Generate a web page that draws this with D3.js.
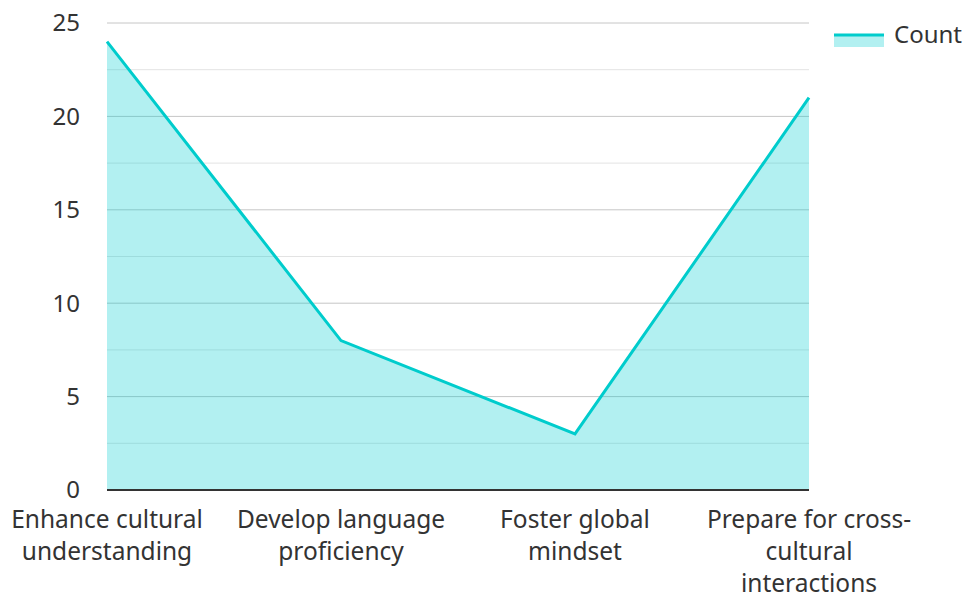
<!DOCTYPE html>
<html>
<head>
<meta charset="utf-8">
<script src="https://cdn.jsdelivr.net/npm/d3@7"></script>
<style>
  body { margin: 0; background: #fff; }
  svg { display: block; font-family: "Noto Sans", "Open Sans", sans-serif; }
</style>
</head>
<body>
<svg id="chart" width="966" height="594"></svg>
<script>
// chart data
const categories = [
  "Enhance cultural understanding",
  "Develop language proficiency",
  "Foster global mindset",
  "Prepare for cross-cultural interactions"
];
const counts = [24, 8, 3, 21];
const yTicks = [0, 5, 10, 15, 20, 25];
const minorTicks = [2.5, 7.5, 12.5, 17.5, 22.5];
const seriesName = "Count";

(function() {
  const svg = d3.select("#chart");
  const plotLeft = 107, plotRight = 809, plotTop = 23, plotBottom = 490;

  const x = d3.scalePoint().domain(categories).range([plotLeft, plotRight]);
  const y = d3.scaleLinear().domain([0, 25]).range([plotBottom, plotTop]);

  // minor grid lines
  svg.append("g").selectAll("line")
    .data(minorTicks).enter().append("line")
    .attr("x1", plotLeft).attr("x2", plotRight)
    .attr("y1", d => y(d)).attr("y2", d => y(d))
    .attr("stroke", "#e3e3e3").attr("stroke-width", 1);

  // major grid lines
  svg.append("g").selectAll("line")
    .data(yTicks.filter(d => d > 0)).enter().append("line")
    .attr("x1", plotLeft).attr("x2", plotRight)
    .attr("y1", d => y(d)).attr("y2", d => y(d))
    .attr("stroke", "#c6c6c6").attr("stroke-width", 1);

  // area + line
  const area = d3.area().x((d, i) => x(categories[i])).y0(y(0)).y1(d => y(d));
  const line = d3.line().x((d, i) => x(categories[i])).y(d => y(d));

  svg.append("path").datum(counts)
    .attr("d", area)
    .attr("fill", "rgba(0, 206, 209, 0.3)");

  svg.append("path").datum(counts)
    .attr("d", line)
    .attr("fill", "none")
    .attr("stroke", "#00cccc")
    .attr("stroke-width", 3)
    .attr("stroke-linejoin", "miter");

  // y axis labels
  svg.append("g").selectAll("text")
    .data(yTicks).enter().append("text")
    .attr("x", 80).attr("y", d => y(d) + 2)
    .attr("text-anchor", "end")
    .attr("dominant-baseline", "middle")
    .attr("font-size", 24)
    .attr("fill", "#333")
    .text(d => d);

  // x axis line
  svg.append("line")
    .attr("x1", plotLeft).attr("x2", plotRight)
    .attr("y1", plotBottom).attr("y2", plotBottom)
    .attr("stroke", "#333").attr("stroke-width", 2);

  // wrap labels at spaces and hyphens
  function wrapLabel(label, maxWidth, measure) {
    const parts = label.match(/[^\s-]+-?/g);
    const lines = [];
    let cur = "";
    parts.forEach(p => {
      const sep = cur === "" || cur.endsWith("-") ? "" : " ";
      const test = cur + sep + p;
      if (cur !== "" && measure(test) > maxWidth) {
        lines.push(cur);
        cur = p;
      } else {
        cur = test;
      }
    });
    if (cur) lines.push(cur);
    return lines;
  }

  const labelSize = 24.5;
  const measurer = svg.append("text").attr("font-size", labelSize).attr("visibility", "hidden");
  const measure = s => { measurer.text(s); return measurer.node().getComputedTextLength(); };

  const xLabels = svg.append("g");
  categories.forEach(c => {
    const lines = wrapLabel(c, 215, measure);
    const t = xLabels.append("text")
      .attr("text-anchor", "middle")
      .attr("dominant-baseline", "middle")
      .attr("font-size", labelSize)
      .attr("fill", "#333");
    lines.forEach((l, i) => {
      t.append("tspan").attr("x", x(c)).attr("y", 521 + i * 32).text(l);
    });
  });
  measurer.remove();

  // legend
  const lg = svg.append("g");
  lg.append("rect").attr("x", 834).attr("y", 35).attr("width", 50).attr("height", 12)
    .attr("fill", "rgba(0, 206, 209, 0.3)");
  lg.append("line").attr("x1", 834).attr("x2", 884).attr("y1", 35).attr("y2", 35)
    .attr("stroke", "#00cccc").attr("stroke-width", 3);
  lg.append("text").attr("x", 894).attr("y", 37)
    .attr("dominant-baseline", "middle")
    .attr("font-size", 24).attr("fill", "#333")
    .text(seriesName);
})();
</script>
</body>
</html>
